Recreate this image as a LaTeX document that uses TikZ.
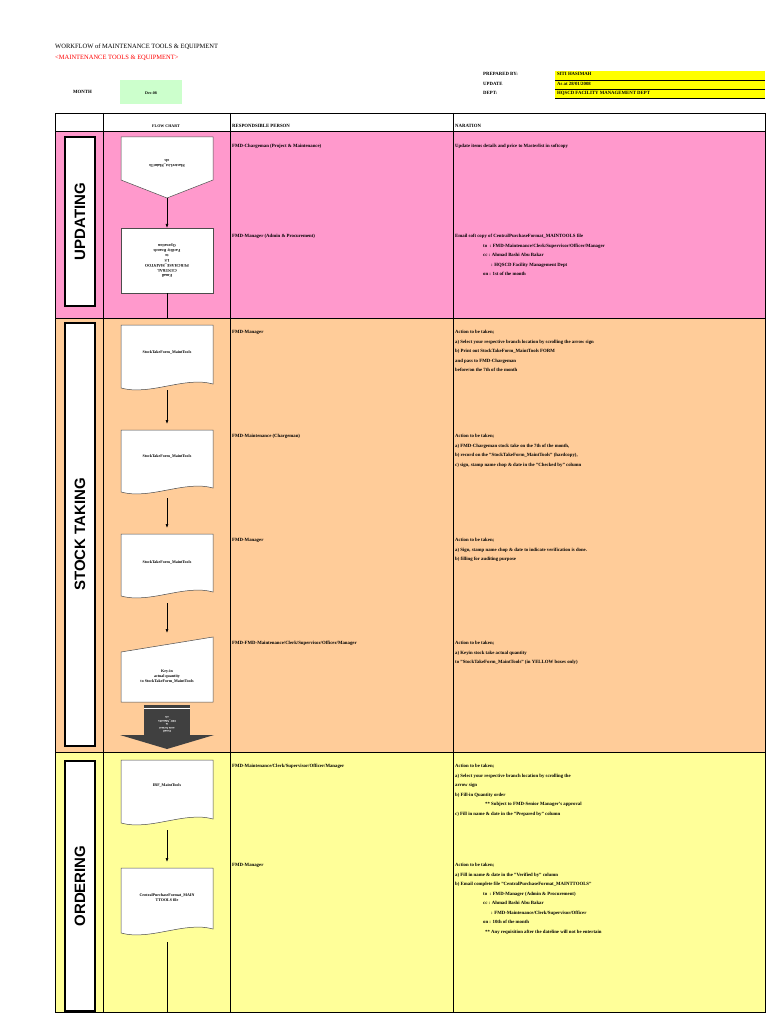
\documentclass[tikz,border=0pt]{standalone}
\usepackage{fontspec}
\setmainfont{Liberation Serif}
\newfontfamily\hv{Liberation Sans}
\usetikzlibrary{arrows.meta,shapes.arrows}
\definecolor{pk}{HTML}{FF99CC}
\definecolor{og}{HTML}{FFCC99}
\definecolor{yl}{HTML}{FFFF99}
\definecolor{gr}{HTML}{CCFFCC}
\definecolor{ylh}{HTML}{FFFF00}
\begin{document}
\begin{tikzpicture}[x=1pt,y=-1pt,
 tx/.style={font=\fontsize{4.8}{9.5}\selectfont\bfseries,anchor=north west,inner sep=0,align=left},
 sm/.style={font=\fontsize{4}{5}\selectfont\bfseries,inner sep=0,align=center},
 lane/.style={draw,line width=1.2pt,fill=white,minimum height=30,inner sep=0,font=\hv\bfseries\fontsize{15}{15}\selectfont},
 arr/.style={-{Latex[length=4pt,width=3pt]},line width=0.6pt},
 shp/.style={draw=black!70,fill=white,line width=0.5pt}]
\useasboundingbox (0,0) rectangle (768,1024);
% header
\node[tx,font=\fontsize{6.5}{7}\selectfont] (t1) at (55,44) {WORKFLOW of MAINTENANCE TOOLS \& EQUIPMENT};
\node[tx,font=\fontsize{6.5}{7}\selectfont,text=red] (t2) at (55,55) {<MAINTENANCE TOOLS \& EQUIPMENT>};
\node[tx] (mo) at (73,90) {MONTH};
\fill[gr] (120,80) rectangle (182,104);
\node[sm] (mv) at (151,93) {Dec-08};
\node[tx] (pb) at (483,72) {PREPARED BY:};
\node[tx] (up) at (483,82) {UPDATE};
\node[tx] (dp) at (483,91) {DEPT:};
\fill[ylh] (555,71) rectangle (765,98);
\draw[line width=0.8pt] (555,80)--(765,80) (555,89)--(765,89) (555,98)--(765,98);
\node[tx] (pv) at (557,72) {SITI HASIMAH};
\node[tx] (uv) at (557,82) {As at 28/01/2008};
\node[tx] (dv) at (557,91) {HQSCD FACILITY MANAGEMENT DEPT};
% bands
\fill[pk] (55,131) rectangle (765,318);
\fill[og] (55,318) rectangle (765,752);
\fill[yl] (55,752) rectangle (765,1012);
\draw[line width=0.8pt] (55,113) rectangle (765,1012);
\draw[line width=0.8pt] (55,131)--(765,131) (55,318)--(765,318) (55,752)--(765,752);
\draw[line width=0.8pt] (103,113)--(103,1012) (230,113)--(230,1012) (453,113)--(453,1012);
\node[sm] (h1) at (166,126) {FLOW CHART};
\node[tx] (h2) at (232,124) {RESPONDSIBLE PERSON};
\node[tx] (h3) at (455,124) {NARATION};
% lane labels
\node[lane,minimum width=169,rotate=90] (l1) at (80,221.5) {UPDATING};
\node[lane,minimum width=423,rotate=90] (l2) at (80,534.5) {STOCK TAKING};
\node[lane,minimum width=250,rotate=90] (l3) at (80,886) {ORDERING};
% updating flow
\draw[shp] (121,137)--(213,137)--(213,180)--(167,198)--(121,180)--cycle;
\node[sm,rotate=180] (u1) at (167,163) {MasterList\_MaintTo\\ols};
\draw[shp] (121,228) rectangle (213,293);
\node[sm,rotate=180] (u2) at (167,260) {Email\\CENTRAL\\PURCHASE\_MAINTOO\\LS\\to\\Facility Branch\\Operation};
\coordinate (u1b) at (167,198); \coordinate (u2t) at (167,228);
\coordinate (u2b) at (167,293); \coordinate (e1) at (167,318);
\draw[arr] (u1b)--(u2t);
\draw[line width=0.6pt] (u2b)--(e1);
% doc macro
\newcommand\docshape[2]{\draw[shp] (121,#1)--(213,#1)--(213,#2-8) .. controls (185,#2-16) and (150,#2+4) .. (121,#2-4)--cycle;}
\docshape{325}{392}
\node[sm] (s1) at (167,352) {StockTakeForm\_MaintTools};
\docshape{430}{496}
\node[sm] (s2) at (167,456) {StockTakeForm\_MaintTools};
\docshape{534}{600}
\node[sm] (s3) at (167,562) {StockTakeForm\_MaintTools};
\draw[shp] (121,652)--(213,637)--(213,702)--(121,702)--cycle;
\node[sm] (s4) at (167,676) {Key-in\\actual quantity\\to StockTakeForm\_MaintTools};
\fill[black!75] (144,705) rectangle (190,735);
\fill[black!75] (120,735)--(214,735)--(167,749)--cycle;
\draw[white,line width=0.3pt] (144,708)--(190,708);
\node[sm,rotate=180,text=white,font=\fontsize{3}{3.5}\selectfont\bfseries] (s5) at (167,725) {Email\\auto format\\to\\IRF\_MaintTo\\ols};
\coordinate (s1b) at (167,390); \coordinate (s2t) at (167,424);
\coordinate (s2b) at (167,498); \coordinate (s3t) at (167,528);
\coordinate (s3b) at (167,603); \coordinate (s4t) at (167,633);
\draw[arr] (s1b)--(s2t);
\draw[arr] (s2b)--(s3t);
\draw[arr] (s3b)--(s4t);
% ordering flow
\docshape{760}{827}
\node[sm] (o1) at (167,785) {IRF\_MaintTools};
\docshape{868}{937}
\node[sm] (o2) at (167,898) {CentralPurchaseFormat\_MAIN\\TTOOLS file};
\coordinate (o1b) at (167,830); \coordinate (o2t) at (167,862);
\coordinate (o2b) at (167,942); \coordinate (e2) at (167,1012);
\draw[arr] (o1b)--(o2t);
\draw[line width=0.6pt] (o2b)--(e2);
% responsible
\node[tx] (r1) at (232,144) {FMD-Chargeman (Project \& Maintenance)};
\node[tx] (r2) at (232,234) {FMD-Manager (Admin \& Procurement)};
\node[tx] (r3) at (232,330) {FMD-Manager};
\node[tx] (r4) at (232,434) {FMD-Maintenance (Chargeman)};
\node[tx] (r5) at (232,538) {FMD-Manager};
\node[tx] (r6) at (232,641) {FMD-FMD-Maintenance/Clerk/Supervisor/Officer/Manager};
\node[tx] (r7) at (232,764) {FMD-Maintenance/Clerk/Supervisor/Officer/Manager};
\node[tx] (r8) at (232,863) {FMD-Manager};
% narration
\node[tx] (n1) at (455,144) {Update items details and price to Masterlist in softcopy};
\node[tx] (n2) at (455,234) {Email soft copy of CentralPurchaseFormat\_MAINTOOLS file\\
\hspace*{28pt}to\ \ : FMD-Maintenance/Clerk/Supervisor/Officer/Manager\\
\hspace*{28pt}cc : Ahmad Bashi Abu Bakar\\
\hspace*{36pt}: HQSCD Facility Management Dept\\
\hspace*{28pt}on\ : 1st of the month};
\node[tx] (n3) at (455,330) {Action to be taken;\\a) Select your respective branch location by scrolling the arrow sign\\b) Print out StockTakeForm\_MaintTools FORM\\and pass to FMD-Chargeman\\before/on the 7th of the month};
\node[tx] (n4) at (455,434) {Action to be taken;\\a) FMD-Chargeman stock take on the 7th of the month,\\b) record on the "StockTakeForm\_MaintTools" (hardcopy),\\c) sign, stamp name chop \& date in the "Checked by" column};
\node[tx] (n5) at (455,538) {Action to be taken;\\a) Sign, stamp name chop \& date to indicate verification is done.\\b) filling for auditing purpose};
\node[tx] (n6) at (455,641) {Action to be taken;\\a) Keyin stock take actual quantity\\to "StockTakeForm\_MaintTools" (in YELLOW boxes only)};
\node[tx] (n7) at (455,764) {Action to be taken;\\a) Select your respective branch location by scrolling the\\arrow sign\\b) Fill-in Quantity order\\\hspace*{30pt}** Subject to FMD-Senior Manager's approval\\c) Fill in name \& date in the "Prepared by" column};
\node[tx] (n8) at (455,863) {Action to be taken;\\a) Fill in name \& date in the "Verified by" column\\b) Email complete file "CentralPurchaseFormat\_MAINTTOOLS"\\
\hspace*{28pt}to\ \ : FMD-Manager (Admin \& Procurement)\\
\hspace*{28pt}cc : Ahmad Bashi Abu Bakar\\
\hspace*{36pt}: FMD-Maintenance/Clerk/Supervisor/Officer\\
\hspace*{28pt}on\ : 10th of the month\\
\hspace*{30pt}** Any requisition after the dateline will not be entertain};
\end{tikzpicture}
\end{document}
